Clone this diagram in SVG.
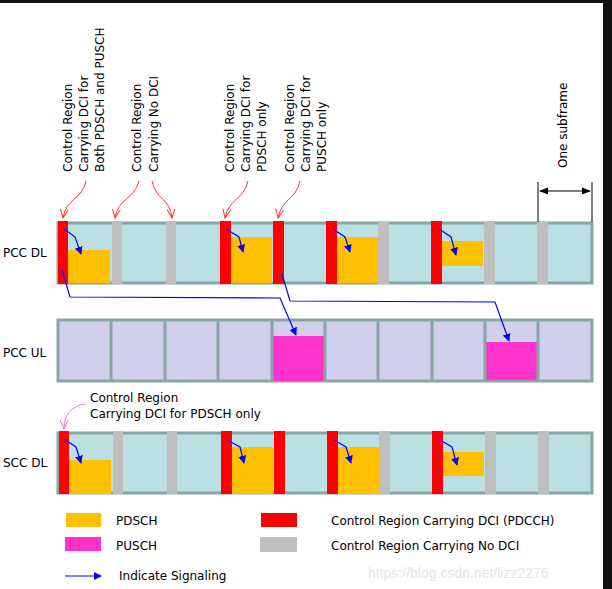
<svg xmlns="http://www.w3.org/2000/svg" width="612" height="589" viewBox="0 0 612 589">
<defs>
<style>
text{font-family:"DejaVu Sans","Liberation Sans",sans-serif;font-size:12px;fill:#000}
.dl{fill:#bbe0e3;stroke:#89a5a5;stroke-width:3}
.ul{fill:#d0d0ee;stroke:#89a5a5;stroke-width:3}
.div{stroke:#89a5a5;stroke-width:3}
.red{fill:#ff0000}
.gray{fill:#bfbfbf}
.pd{fill:#ffc000}
.pu{fill:#ff33cc}
.sig{fill:none;stroke:#0000ff;stroke-width:1.2;marker-end:url(#ab)}
.cur{fill:none;stroke:#ff3333;stroke-width:1;marker-end:url(#ar)}
</style>
<marker id="ab" viewBox="0 0 10 10" refX="9" refY="5" markerWidth="8" markerHeight="8" orient="auto" markerUnits="userSpaceOnUse"><path d="M0,0L10,5L0,10z" fill="#0000ff"/></marker>
<marker id="ar" viewBox="0 0 10 10" refX="9" refY="5" markerWidth="10" markerHeight="10" orient="auto" markerUnits="userSpaceOnUse"><path d="M0,1L9,5L0,9" fill="none" stroke="#ff3333"/></marker>
<marker id="ap" viewBox="0 0 10 10" refX="9" refY="5" markerWidth="10" markerHeight="10" orient="auto" markerUnits="userSpaceOnUse"><path d="M0,1L9,5L0,9" fill="none" stroke="#ff66cc"/></marker>
<marker id="ak" viewBox="0 0 10 10" refX="9" refY="5" markerWidth="9" markerHeight="9" orient="auto-start-reverse" markerUnits="userSpaceOnUse"><path d="M0,1L10,5L0,9z" fill="#000"/></marker>
</defs>
<rect width="612" height="589" fill="#fff"/>
<rect x="0" y="0" width="612" height="3" fill="#111"/>
<rect x="603" y="0" width="9" height="589" fill="#111"/>

<g id="pcc-dl">
<text x="3" y="257">PCC DL</text>
<rect class="dl" x="58" y="223" width="534" height="60"/>
<rect class="pd" x="68" y="250" width="42" height="33"/>
<rect class="pd" x="231" y="237" width="41" height="46"/>
<rect class="pd" x="337" y="237" width="41" height="46"/>
<rect class="pd" x="442" y="241" width="41" height="25"/>
<rect class="red" x="58" y="221" width="10" height="63"/>
<rect class="gray" x="112" y="221" width="10" height="63"/>
<rect class="gray" x="166" y="221" width="10" height="63"/>
<rect class="red" x="220" y="221" width="11" height="63"/>
<rect class="red" x="273" y="221" width="11" height="63"/>
<rect class="red" x="326" y="221" width="11" height="63"/>
<rect class="gray" x="378" y="221" width="11" height="63"/>
<rect class="red" x="431" y="221" width="11" height="63"/>
<rect class="gray" x="484" y="221" width="11" height="63"/>
<rect class="gray" x="537" y="221" width="11" height="63"/>
</g>

<g id="pcc-ul">
<text x="3" y="357">PCC UL</text>
<rect class="ul" x="58" y="320" width="534" height="61"/>
<rect class="pu" x="272" y="336" width="53" height="45"/>
<rect class="pu" x="484" y="342" width="53" height="38"/>
<g class="div"><line x1="111" y1="320" x2="111" y2="381"/><line x1="165" y1="320" x2="165" y2="381"/><line x1="218" y1="320" x2="218" y2="381"/><line x1="272" y1="320" x2="272" y2="381"/><line x1="325" y1="320" x2="325" y2="381"/><line x1="378" y1="320" x2="378" y2="381"/><line x1="432" y1="320" x2="432" y2="381"/><line x1="485" y1="320" x2="485" y2="381"/><line x1="538" y1="320" x2="538" y2="381"/></g>
</g>

<g id="scc-dl">
<text x="3" y="467">SCC DL</text>
<rect class="dl" x="58" y="433" width="534" height="60"/>
<rect class="pd" x="69" y="460" width="42" height="34"/>
<rect class="pd" x="232" y="447" width="41" height="47"/>
<rect class="pd" x="338" y="447" width="41" height="47"/>
<rect class="pd" x="443" y="452" width="41" height="24"/>
<rect class="red" x="59" y="431" width="10" height="63"/>
<rect class="gray" x="113" y="431" width="10" height="63"/>
<rect class="gray" x="167" y="431" width="10" height="63"/>
<rect class="red" x="221" y="431" width="11" height="63"/>
<rect class="red" x="274" y="431" width="11" height="63"/>
<rect class="red" x="327" y="431" width="11" height="63"/>
<rect class="gray" x="379" y="431" width="11" height="63"/>
<rect class="red" x="432" y="431" width="11" height="63"/>
<rect class="gray" x="485" y="431" width="11" height="63"/>
<rect class="gray" x="538" y="431" width="11" height="63"/>
</g>

<g id="labels">
<text transform="translate(72,172) rotate(-90)">Control Region</text>
<text transform="translate(88,172) rotate(-90)">Carrying DCI for</text>
<text transform="translate(104,172) rotate(-90)">Both PDSCH and PUSCH</text>
<text transform="translate(141,172) rotate(-90)">Control Region</text>
<text transform="translate(158,172) rotate(-90)">Carrying No DCI</text>
<text transform="translate(234,172) rotate(-90)">Control Region</text>
<text transform="translate(250,172) rotate(-90)">Carrying DCI for</text>
<text transform="translate(266,172) rotate(-90)">PDSCH only</text>
<text transform="translate(294,172) rotate(-90)">Control Region</text>
<text transform="translate(310,172) rotate(-90)">Carrying DCI for</text>
<text transform="translate(326,172) rotate(-90)">PUSCH only</text>
<text transform="translate(567,168) rotate(-90)">One subframe</text>
<text x="90" y="402">Control Region</text>
<text x="90" y="418">Carrying DCI for PDSCH only</text>
</g>

<g id="connectors">
<path class="cur" d="M86,181 C82,200 66,198 63,218"/>
<path class="cur" d="M139,181 C134,200 118,198 115,218"/>
<path class="cur" d="M152,181 C156,200 170,198 172,218"/>
<path class="cur" d="M248,181 C244,200 229,198 225,218"/>
<path class="cur" d="M300,181 C296,200 282,198 278,218"/>
<path d="M85,404 C72,406 64,414 64,429" fill="none" stroke="#ff66cc" stroke-width="1" marker-end="url(#ap)"/>
<line x1="538" y1="182" x2="538" y2="222" stroke="#000"/>
<line x1="592" y1="182" x2="592" y2="222" stroke="#000"/>
<line x1="540" y1="191" x2="590" y2="191" stroke="#000" marker-start="url(#ak)" marker-end="url(#ak)"/>
<path class="sig" d="M63,228 L75,237 L81,254"/>
<path class="sig" d="M226,229 L239,237 L243,252"/>
<path class="sig" d="M333,229 L345,237 L350,252"/>
<path class="sig" d="M439,229 L451,237 L456,255"/>
<path class="sig" d="M64,439 L76,447 L81,463"/>
<path class="sig" d="M227,440 L240,447 L244,463"/>
<path class="sig" d="M334,440 L346,447 L351,463"/>
<path class="sig" d="M440,440 L452,447 L457,465"/>
<path class="sig" d="M62,270 L70,297 L280,298 L296,335"/>
<path class="sig" d="M282,274 L290,301 L495,302 L509,341"/>
</g>

<g id="legend">
<rect class="pd" x="66" y="513" width="35" height="14"/>
<text x="116" y="525">PDSCH</text>
<rect class="pu" x="65" y="537" width="36" height="14"/>
<text x="116" y="550">PUSCH</text>
<rect class="red" x="261" y="513" width="36" height="14"/>
<text x="331" y="525">Control Region Carrying DCI (PDCCH)</text>
<rect class="gray" x="260" y="537" width="37" height="15"/>
<text x="331" y="550">Control Region Carrying No DCI</text>
<line x1="65" y1="576" x2="101" y2="576" stroke="#0000ff" stroke-width="1.2" marker-end="url(#ab)"/>
<text x="119" y="580">Indicate Signaling</text>
<text x="368" y="578" style="fill:#e4e4e4;font-family:'Liberation Sans',sans-serif;font-size:14px">https://blog.csdn.net/lizz2276</text>
</g>
</svg>
